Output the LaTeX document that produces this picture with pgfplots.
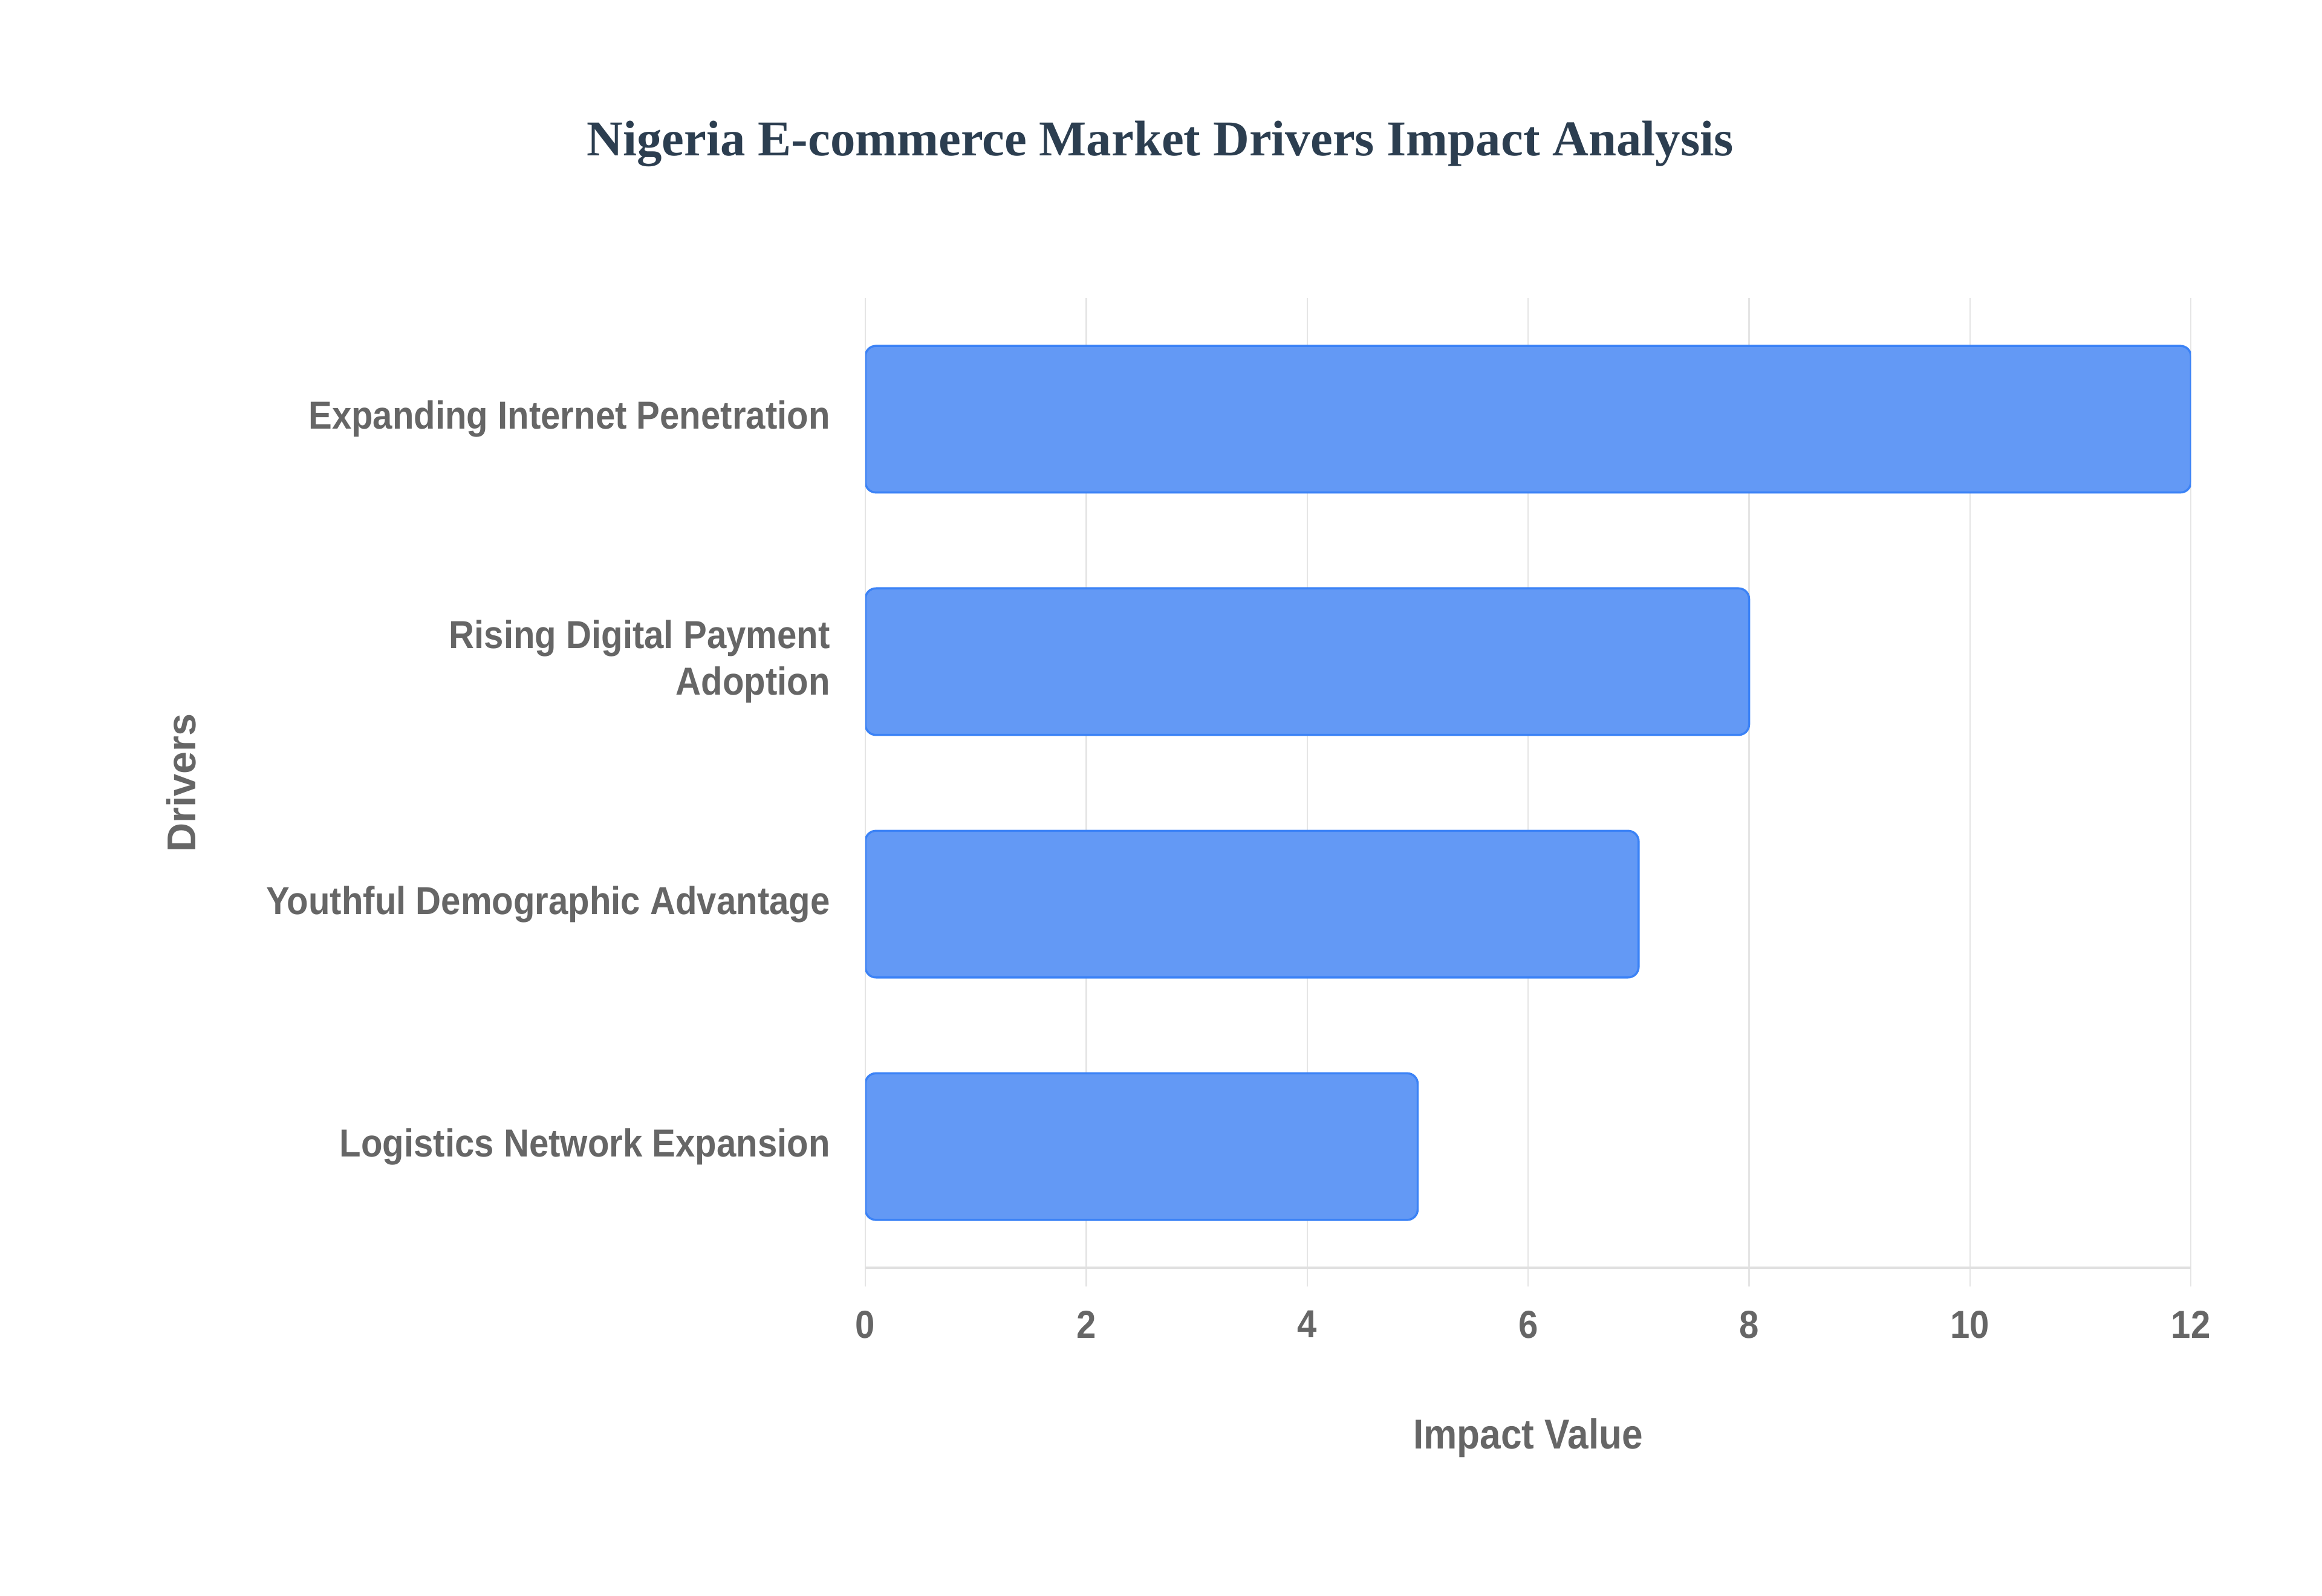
\documentclass[border=0pt]{standalone}
\usepackage{fontspec}
\setmainfont{Liberation Sans}
\newfontfamily\titlefont{Liberation Serif}
\newfontfamily\narrowfont[FakeStretch=0.9]{Liberation Sans}
\usepackage{pgfplots}
\pgfplotsset{compat=1.18}

\definecolor{barfill}{HTML}{6399F5}
\definecolor{baredge}{HTML}{3B82F6}
\definecolor{gridgray}{HTML}{E5E5E5}
\definecolor{axisgray}{HTML}{E0E0E0}
\definecolor{labelgray}{HTML}{666666}
\definecolor{titlecol}{HTML}{2C3E50}

\begin{document}
\begin{tikzpicture}
% frame of the whole chart, plot area lower left at (0,0)
\useasboundingbox (-289.2bp,-109.7bp) rectangle (486.8bp,423.8bp);
\begin{axis}[
    at={(0,0)}, anchor=south west,
    scale only axis,
    width=443bp, height=324.2bp,
    xbar, bar width=49bp,
    xmin=0, xmax=12, ymin=-0.5, ymax=3.5,
    xtick={0,2,...,12},
    ytick={0,1,2,3},
    yticklabels={Logistics Network Expansion, Youthful Demographic Advantage, {Rising Digital Payment\\Adoption}, Expanding Internet Penetration},
    xmajorgrids, grid style={gridgray, line width=0.45bp},
    axis lines*=left,
    axis line style={-},
    x axis line style={axisgray, line width=0.75bp},
    y axis line style={draw=none},
    tick align=outside, major tick length=6.3bp,
    xtick style={gridgray, line width=0.45bp},
    ytick style={draw=none},
    /pgf/number format/assume math mode=true,
    ticklabel style={font=\narrowfont\fontsize{13.1}{15.5}\selectfont\bfseries, text=labelgray},
    xticklabel shift=4.6bp,
    yticklabel style={align=right},
    yticklabel shift=2bp,
    title={Nigeria E-commerce Market Drivers Impact Analysis},
    every axis title shift=0pt,
    title style={font=\titlefont\fontsize{16.8}{20}\selectfont\bfseries, text=titlecol,
        at={(0.2224,1.147)}, anchor=base},
    xlabel={Impact Value},
    ylabel={Drivers},
    xlabel style={font=\narrowfont\fontsize{14}{16}\selectfont\bfseries, text=labelgray,
        at={(0.5,-0.1863)}, anchor=base},
    ylabel style={font=\fontsize{13.5}{16}\selectfont\bfseries, text=labelgray,
        at={(-0.5054,0.5)}, anchor=base},
]
\addplot[fill=barfill, draw=baredge, line width=0.7bp, rounded corners=3.5bp] coordinates {
    (5,0)
    (7,1)
    (8,2)
    (12,3)
};
\end{axis}
\end{tikzpicture}
\end{document}
